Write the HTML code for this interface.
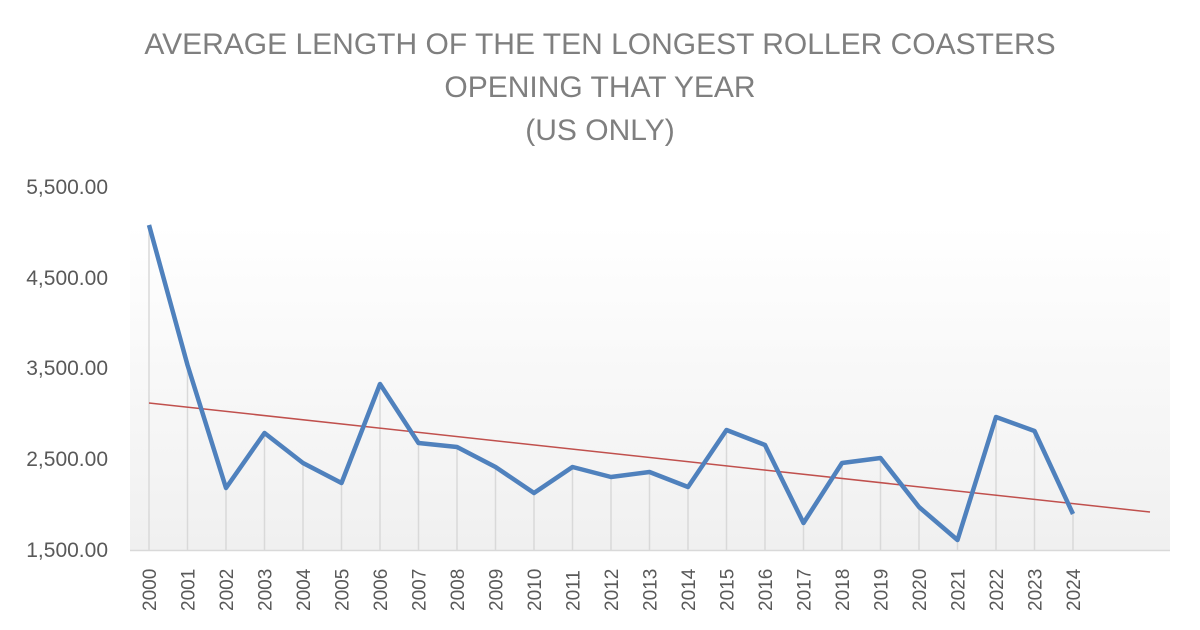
<!DOCTYPE html>
<html><head><style>
body{margin:0;background:#fff;}
svg{display:block;font-family:"Liberation Sans",sans-serif;}
</style></head><body>
<svg width="1200" height="630" xmlns="http://www.w3.org/2000/svg">
<defs><linearGradient id="g" x1="0" y1="0" x2="0" y2="1"><stop offset="0" stop-color="#fff"/><stop offset="1" stop-color="#f0f0f0"/></linearGradient></defs>
<g fill="#7f7f7f" font-size="30" text-anchor="middle">
<text x="600" y="54">AVERAGE LENGTH OF THE TEN LONGEST ROLLER COASTERS</text>
<text x="600" y="97">OPENING THAT YEAR</text>
<text x="600" y="140">(US ONLY)</text>
</g>
<rect x="130" y="225" width="1040" height="325" fill="url(#g)"/>
<g fill="#595959" font-size="21" text-anchor="end">
<text x="108" y="194">5,500.00</text>
<text x="108" y="285">4,500.00</text>
<text x="108" y="375">3,500.00</text>
<text x="108" y="466">2,500.00</text>
<text x="108" y="557">1,500.00</text>
</g>
<g stroke="#d9d9d9" stroke-width="1.5">
<line x1="149" y1="225" x2="149" y2="550"/>
<line x1="187.5" y1="365" x2="187.5" y2="550"/>
<line x1="226" y1="488" x2="226" y2="550"/>
<line x1="264.5" y1="433" x2="264.5" y2="550"/>
<line x1="303" y1="463" x2="303" y2="550"/>
<line x1="341.5" y1="483" x2="341.5" y2="550"/>
<line x1="380" y1="384" x2="380" y2="550"/>
<line x1="418.5" y1="443" x2="418.5" y2="550"/>
<line x1="457" y1="447" x2="457" y2="550"/>
<line x1="495.5" y1="467" x2="495.5" y2="550"/>
<line x1="534" y1="493" x2="534" y2="550"/>
<line x1="572.5" y1="467" x2="572.5" y2="550"/>
<line x1="611" y1="477" x2="611" y2="550"/>
<line x1="649.5" y1="472" x2="649.5" y2="550"/>
<line x1="688" y1="487" x2="688" y2="550"/>
<line x1="726.5" y1="430" x2="726.5" y2="550"/>
<line x1="765" y1="445" x2="765" y2="550"/>
<line x1="803.5" y1="523" x2="803.5" y2="550"/>
<line x1="842" y1="463" x2="842" y2="550"/>
<line x1="880.5" y1="458" x2="880.5" y2="550"/>
<line x1="919" y1="507" x2="919" y2="550"/>
<line x1="957.5" y1="540" x2="957.5" y2="550"/>
<line x1="996" y1="417" x2="996" y2="550"/>
<line x1="1034.5" y1="431" x2="1034.5" y2="550"/>
<line x1="1073" y1="514" x2="1073" y2="550"/>
</g>
<line x1="130" y1="550.5" x2="1170" y2="550.5" stroke="#d9d9d9" stroke-width="1.5"/>
<line x1="149" y1="403" x2="1150" y2="512" stroke="#c0504d" stroke-width="1.5"/>
<polyline fill="none" stroke="#4f81bd" stroke-width="4.5" stroke-linejoin="round" points="149,225 187.5,365 226,488 264.5,433 303,463 341.5,483 380,384 418.5,443 457,447 495.5,467 534,493 572.5,467 611,477 649.5,472 688,487 726.5,430 765,445 803.5,523 842,463 880.5,458 919,507 957.5,540 996,417 1034.5,431 1073,514"/>
<g fill="#595959" font-size="19">
<text transform="translate(156,611) rotate(-90)">2000</text>
<text transform="translate(194.5,611) rotate(-90)">2001</text>
<text transform="translate(233,611) rotate(-90)">2002</text>
<text transform="translate(271.5,611) rotate(-90)">2003</text>
<text transform="translate(310,611) rotate(-90)">2004</text>
<text transform="translate(348.5,611) rotate(-90)">2005</text>
<text transform="translate(387,611) rotate(-90)">2006</text>
<text transform="translate(425.5,611) rotate(-90)">2007</text>
<text transform="translate(464,611) rotate(-90)">2008</text>
<text transform="translate(502.5,611) rotate(-90)">2009</text>
<text transform="translate(541,611) rotate(-90)">2010</text>
<text transform="translate(579.5,611) rotate(-90)">2011</text>
<text transform="translate(618,611) rotate(-90)">2012</text>
<text transform="translate(656.5,611) rotate(-90)">2013</text>
<text transform="translate(695,611) rotate(-90)">2014</text>
<text transform="translate(733.5,611) rotate(-90)">2015</text>
<text transform="translate(772,611) rotate(-90)">2016</text>
<text transform="translate(810.5,611) rotate(-90)">2017</text>
<text transform="translate(849,611) rotate(-90)">2018</text>
<text transform="translate(887.5,611) rotate(-90)">2019</text>
<text transform="translate(926,611) rotate(-90)">2020</text>
<text transform="translate(964.5,611) rotate(-90)">2021</text>
<text transform="translate(1003,611) rotate(-90)">2022</text>
<text transform="translate(1041.5,611) rotate(-90)">2023</text>
<text transform="translate(1080,611) rotate(-90)">2024</text>
</g>
</svg>
</body></html>
